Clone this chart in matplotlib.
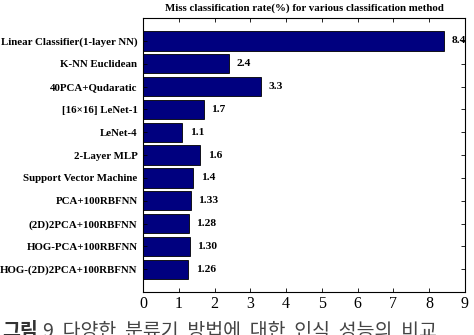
import numpy as np
import matplotlib
matplotlib.use("Agg")
import matplotlib.pyplot as plt

# 분류 방법별 오분류율(%)
methods = [
    "Linear Classifier(1-layer NN)",
    "K-NN Euclidean",
    "40PCA+Qudaratic",
    "[16×16] LeNet-1",
    "LeNet-4",
    "2-Layer MLP",
    "Support Vector Machine",
    "PCA+100RBFNN",
    "(2D)2PCA+100RBFNN",
    "HOG-PCA+100RBFNN",
    "HOG-(2D)2PCA+100RBFNN",
]
error_rates = [8.4, 2.4, 3.3, 1.7, 1.1, 1.6, 1.4, 1.33, 1.28, 1.30, 1.26]
value_labels = ["8.4", "2.4", "3.3", "1.7", "1.1", "1.6", "1.4", "1.33", "1.28", "1.30", "1.26"]
x_ticks = list(range(10))

caption_words = ["9", "다양한", "분류기", "방법에", "대한", "인식", "성능의", "비교"]

serif = "Liberation Serif"
kr = "Noto Sans CJK KR"

W, H = 474, 335
fig = plt.figure(figsize=(W / 100, H / 100), dpi=100)
ax = fig.add_axes([0.3017, 0.128, 0.6793, 0.818])

pos = np.arange(1, len(methods) + 1)
ax.barh(pos, error_rates, height=0.85, color="#00007f", edgecolor="black", linewidth=0.6)

for p, v, s in zip(pos, error_rates, value_labels):
    ax.annotate(s, xy=(v, p), xytext=(5.5, 0), textcoords="offset points",
                va="center", ha="left", fontsize=8.2, fontweight="bold", family=serif)

ax.set_xlim(0, 9)
ax.set_ylim(12, 0)
ax.set_xticks(x_ticks)
ax.set_xticklabels([str(t) for t in x_ticks], family=serif, fontsize=11.5)
ax.set_yticks(pos)
ax.set_yticklabels(methods, family=serif, fontsize=7.8, fontweight="bold")
ax.tick_params(direction="in", length=3, width=0.6, top=True, right=True, pad=3)
ax.tick_params(axis="y", pad=4)
for sp in ax.spines.values():
    sp.set_linewidth(0.8)

ax.set_title("Miss classification rate(%) for various classification method",
             family=serif, fontsize=7.8, fontweight="bold", pad=5)

# 그림 캡션 (아래쪽이 잘린 상태), 단어 간격은 넓게
cap_y = (H - 337) / H
fig.text(2 / W, cap_y, "그림", family=kr, fontsize=14, fontweight="bold",
         color="#333333", va="baseline")
fig.text(43 / W, cap_y, "  ".join(caption_words), family=kr,
         fontsize=14, color="#444444", va="baseline")

fig.savefig("out.png", dpi=100)
